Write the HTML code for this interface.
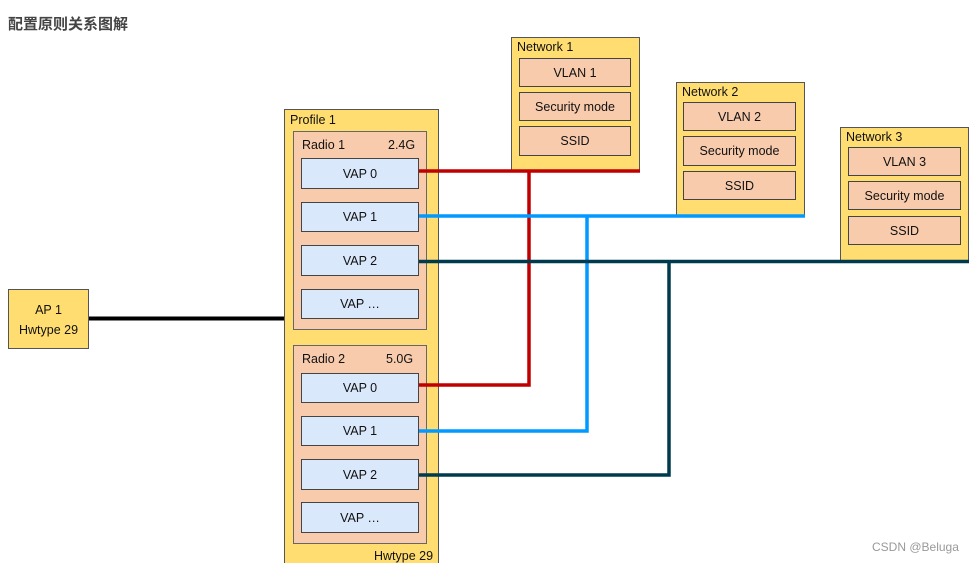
<!DOCTYPE html>
<html><head><meta charset="utf-8"><style>
html,body{margin:0;width:978px;height:563px;overflow:hidden}
body{background:#fff;position:relative;font-family:"Liberation Sans","Noto Sans CJK SC",sans-serif;color:#111}
.b{position:absolute;box-sizing:border-box;font-size:12.5px}
.y{background:#ffdd70;border:1px solid #555}
.o{background:#f8cbad;border:1px solid #666}
.v{background:#dae8fc;border:1px solid #444;display:flex;align-items:center;justify-content:center}
.t{position:absolute;font-size:12.5px;white-space:nowrap}
</style></head><body>
<div class="t" style="left:8px;top:13px;font-size:15px;font-weight:bold;color:#444">配置原则关系图解</div>
<svg style="position:absolute;left:0;top:0" width="978" height="563">
<line x1="88" y1="318.5" x2="285" y2="318.5" stroke="#000" stroke-width="4"/>
</svg>
<div class="b y" style="left:8px;top:289px;width:81px;height:60px;text-align:center;padding-top:10px;line-height:20px">AP 1<br>Hwtype 29</div>
<div class="b y" style="left:284px;top:109px;width:155px;height:470px"></div>
<div class="t" style="left:290px;top:113px">Profile 1</div>
<div class="t" style="left:374px;top:549px">Hwtype 29</div>
<div class="b o" style="left:293px;top:131px;width:134px;height:199px"></div>
<div class="t" style="left:302px;top:138px">Radio 1</div><div class="t" style="left:388px;top:138px">2.4G</div>
<div class="b v" style="left:301px;top:158px;width:118px;height:31px">VAP 0</div>
<div class="b v" style="left:301px;top:202px;width:118px;height:30px">VAP 1</div>
<div class="b v" style="left:301px;top:245px;width:118px;height:31px">VAP 2</div>
<div class="b v" style="left:301px;top:289px;width:118px;height:30px">VAP …</div>
<div class="b o" style="left:293px;top:345px;width:134px;height:199px"></div>
<div class="t" style="left:302px;top:352px">Radio 2</div><div class="t" style="left:386px;top:352px">5.0G</div>
<div class="b v" style="left:301px;top:373px;width:118px;height:30px">VAP 0</div>
<div class="b v" style="left:301px;top:416px;width:118px;height:30px">VAP 1</div>
<div class="b v" style="left:301px;top:459px;width:118px;height:31px">VAP 2</div>
<div class="b v" style="left:301px;top:502px;width:118px;height:31px">VAP …</div>

<div class="b y" style="left:511px;top:37px;width:129px;height:135px"></div>
<div class="t" style="left:517px;top:40px">Network 1</div>
<div class="b o v" style="left:519px;top:58px;width:112px;height:29px;background:#f8cbad">VLAN 1</div>
<div class="b o v" style="left:519px;top:92px;width:112px;height:29px;background:#f8cbad">Security mode</div>
<div class="b o v" style="left:519px;top:126px;width:112px;height:30px;background:#f8cbad">SSID</div>

<div class="b y" style="left:676px;top:82px;width:129px;height:135px"></div>
<div class="t" style="left:682px;top:85px">Network 2</div>
<div class="b o v" style="left:683px;top:102px;width:113px;height:29px;background:#f8cbad">VLAN 2</div>
<div class="b o v" style="left:683px;top:136px;width:113px;height:30px;background:#f8cbad">Security mode</div>
<div class="b o v" style="left:683px;top:171px;width:113px;height:29px;background:#f8cbad">SSID</div>

<div class="b y" style="left:840px;top:127px;width:129px;height:134px"></div>
<div class="t" style="left:846px;top:130px">Network 3</div>
<div class="b o v" style="left:848px;top:147px;width:113px;height:29px;background:#f8cbad">VLAN 3</div>
<div class="b o v" style="left:848px;top:181px;width:113px;height:29px;background:#f8cbad">Security mode</div>
<div class="b o v" style="left:848px;top:216px;width:113px;height:29px;background:#f8cbad">SSID</div>

<svg style="position:absolute;left:0;top:0" width="978" height="563" fill="none" stroke-width="3.5">
<polyline points="419,171 640,171" stroke="#c00000"/>
<polyline points="529,171 529,385 419,385" stroke="#c00000"/>
<polyline points="419,216 805,216" stroke="#0099ff"/>
<polyline points="587,216 587,431 419,431" stroke="#0099ff"/>
<polyline points="419,261.5 969,261.5" stroke="#003a4d"/>
<polyline points="669,261 669,475 419,475" stroke="#003a4d"/>
</svg>
<div class="t" style="left:872px;top:540px;color:#999;font-size:12px">CSDN @Beluga</div>
</body></html>
